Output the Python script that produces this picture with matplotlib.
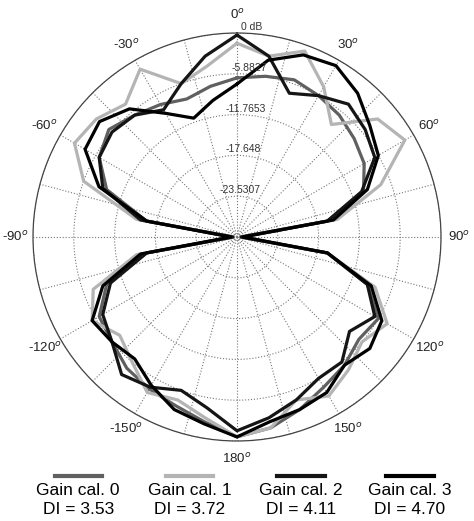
import numpy as np
import matplotlib.pyplot as plt
from matplotlib.lines import Line2D

plt.rcParams['font.family'] = ['Liberation Sans', 'DejaVu Sans']

FLOOR = -29.4134
angles_deg = list(range(0, 360, 10))

cal0 = [0.78, 0.8, 0.82, 0.8, 0.78, 0.75, 0.72, 0.66, 0.45, 0.02, 0.45, 0.68, 0.8, 0.78, 0.82, 0.85, 0.9, 0.95,
        0.98, 0.92, 0.88, 0.86, 0.84, 0.8, 0.78, 0.68, 0.45, 0.02, 0.45, 0.68, 0.78, 0.82, 0.78, 0.75, 0.72, 0.75]
cal1 = [0.95, 0.9, 0.97, 0.85, 0.72, 0.9, 0.95, 0.75, 0.5, 0.02, 0.45, 0.72, 0.85, 0.8, 0.85, 0.9, 0.85, 0.95,
        0.98, 0.9, 0.85, 0.88, 0.8, 0.75, 0.82, 0.75, 0.5, 0.02, 0.5, 0.8, 0.92, 0.9, 0.85, 0.95, 0.8, 0.85]
cal2 = [0.99, 0.9, 0.75, 0.8, 0.85, 0.82, 0.78, 0.65, 0.45, 0.02, 0.45, 0.68, 0.78, 0.72, 0.8, 0.8, 0.85, 0.9,
        0.95, 0.85, 0.8, 0.85, 0.88, 0.8, 0.76, 0.66, 0.45, 0.02, 0.48, 0.7, 0.78, 0.8, 0.78, 0.72, 0.8, 0.9]
cal3 = [0.75, 0.88, 0.95, 0.97, 0.92, 0.85, 0.8, 0.68, 0.48, 0.03, 0.45, 0.7, 0.82, 0.85, 0.82, 0.88, 0.9, 0.92,
        0.98, 0.93, 0.9, 0.84, 0.78, 0.8, 0.82, 0.7, 0.48, 0.03, 0.45, 0.72, 0.86, 0.88, 0.82, 0.7, 0.62, 0.68]

series = [("Gain cal. 0", "DI = 3.53", cal0, "#606060"),
          ("Gain cal. 1", "DI = 3.72", cal1, "#b4b4b4"),
          ("Gain cal. 2", "DI = 4.11", cal2, "#151515"),
          ("Gain cal. 3", "DI = 4.70", cal3, "#000000")]

ring_db = [-23.5307, -17.648, -11.7653, -5.8827, 0]
ring_labels = ["-23.5307", "-17.648", "-11.7653", "-5.8827", "0 dB"]

fig = plt.figure(figsize=(4.74, 5.21), dpi=100)
ax = fig.add_axes([33 / 474, 80 / 521, 408 / 474, 408 / 521], projection="polar")
ax.set_theta_zero_location("N")
ax.set_theta_direction(-1)
ax.set_ylim(FLOOR, 0)

th = np.deg2rad(angles_deg + [360])
for name, di, vals, col in series:
    db = [FLOOR * (1 - v) for v in vals]
    ax.plot(th, db + [db[0]], color=col, lw=2.3, solid_joinstyle="round")

ax.set_thetagrids(range(0, 360, 15), labels=[""] * 24)
ax.set_rgrids(ring_db, labels=[""] * 5)
ax.grid(True, color="#777777", ls=":", lw=0.8)
ax.spines["polar"].set_color("#444444")
ax.spines["polar"].set_linewidth(0.9)

for a in range(-150, 181, 30):
    ax.text(np.deg2rad(a), 2.6, f"{a}$^o$", ha="center", va="center", fontsize=9.5,
            color="#222222", clip_on=False)
for r, lab in zip(ring_db, ring_labels):
    ax.text(np.deg2rad(4), r + 0.9, lab, ha="center", va="center", fontsize=7.5, color="#333333")

xs = [0.165, 0.4, 0.635, 0.865]
for (name, di, vals, col), x in zip(series, xs):
    fig.add_artist(Line2D([x - 0.05, x + 0.05], [0.087, 0.087], color=col, lw=3, transform=fig.transFigure))
    fig.text(x, 0.058, name, ha="center", va="center", fontsize=12.5)
    fig.text(x, 0.022, di, ha="center", va="center", fontsize=12.5)

fig.savefig("out.png", dpi=100)
